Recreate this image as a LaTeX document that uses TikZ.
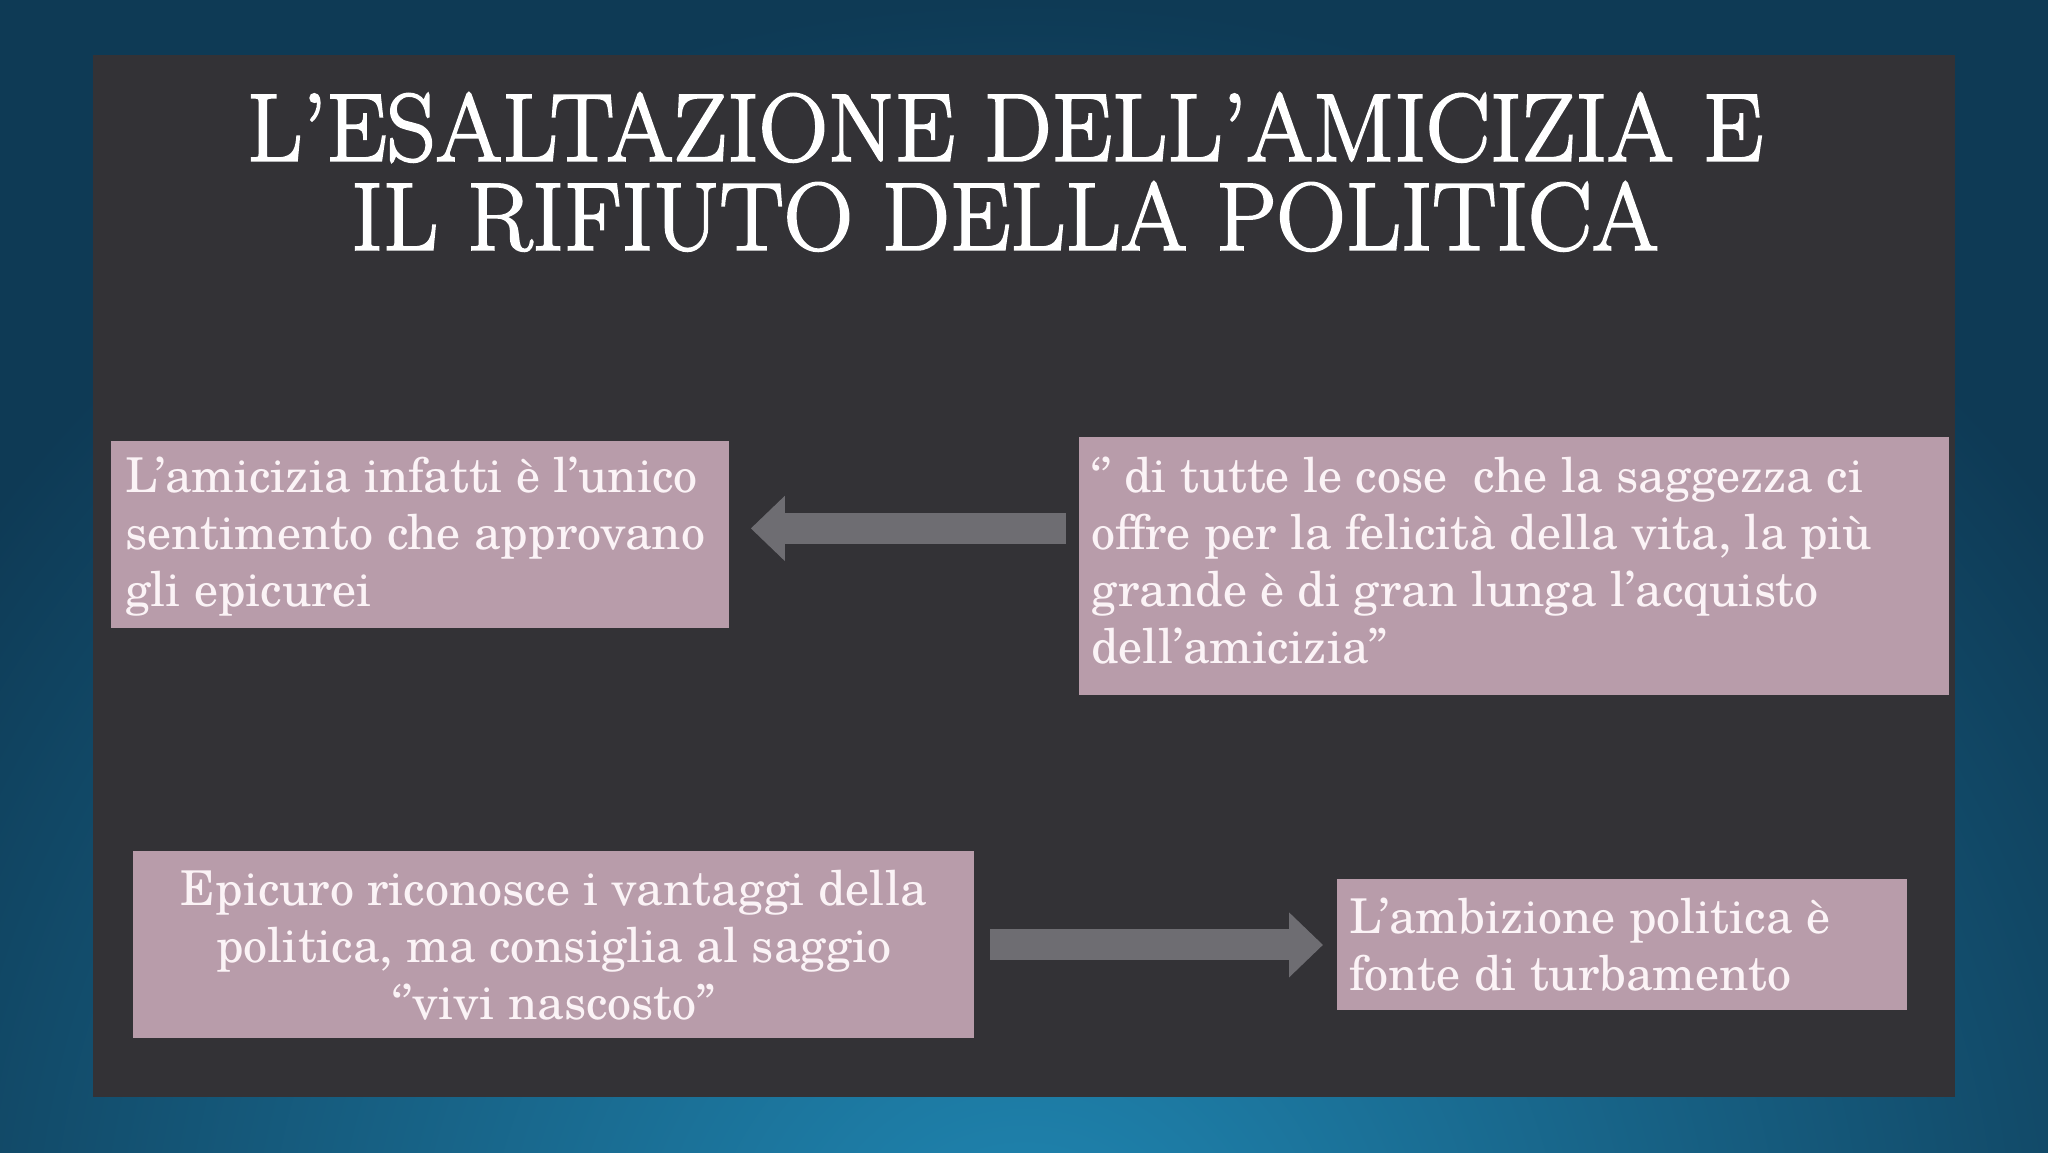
\documentclass[tikz,border=0pt]{standalone}
\usepackage{fontspec}
\newfontfamily\titlefont{lmroman17-regular.otf}[FakeBold=2.2]
\newfontfamily\boxfont{texgyreschola-regular.otf}
\usetikzlibrary{arrows.meta}
\definecolor{bgdark}{HTML}{0E3A55}
\definecolor{bglight}{HTML}{2088B4}
\definecolor{panel}{HTML}{333236}
\definecolor{mauve}{HTML}{B89CAA}
\definecolor{arrowgray}{HTML}{6E6D72}
\definecolor{txt}{HTML}{FBF3F6}
\tikzset{
  pbox/.style={fill=mauve, draw=none, anchor=north west, inner sep=0pt},
  ptext/.style={text=txt, font=\boxfont\fontsize{24}{28.5}\selectfont, inner sep=0pt, align=left},
  bigarrow/.style={draw=arrowgray, line width=15.5pt, -{Triangle[length=17pt,width=31.5pt]}},
}
\begin{document}
\begin{tikzpicture}[x=0.5pt,y=-0.5pt]
\useasboundingbox (0,0) rectangle (2048,1152);
\fill[bgdark] (0,0) rectangle (2048,1152);
\begin{scope}
\clip (0,0) rectangle (2048,1152);
\shade[inner color=bglight, outer color=bgdark] (1024,1300) circle (1300);
\end{scope}
\fill[panel] (93,55) rectangle (1955,1097);
% title
\node[text=white, font=\titlefont\fontsize{48}{44.5}\selectfont, align=center, inner sep=0pt] (title) at (1005,172)
  {L’ESALTAZIONE DELL’AMICIZIA E\\IL RIFIUTO DELLA POLITICA};
% boxes
\node[pbox, minimum width=309pt, minimum height=93.5pt] (b1) at (111,441) {};
\node[pbox, minimum width=435pt, minimum height=129pt] (b2) at (1079,437) {};
\node[pbox, minimum width=420.5pt, minimum height=93.5pt] (b3) at (133,851) {};
\node[pbox, minimum width=285pt, minimum height=65.5pt] (b4) at (1337,879) {};
% texts
\node[ptext, anchor=west] (t1) at ([xshift=7pt,yshift=-1pt]b1.west)
  {L’amicizia infatti è l’unico\\sentimento che approvano\\gli epicurei};
\node[ptext, anchor=north west] (t2) at ([xshift=6pt,yshift=-10pt]b2.north west)
  {‘’ di tutte le cose\ \ che la saggezza ci\\offre per la felicità della vita, la più\\grande è di gran lunga l’acquisto\\dell’amicizia”};
\node[ptext, align=center] (t3) at (b3.center)
  {Epicuro riconosce i vantaggi della\\politica, ma consiglia al saggio\\‘’vivi nascosto”};
\node[ptext, anchor=west] (t4) at ([xshift=6pt]b4.west)
  {L’ambizione politica è\\fonte di turbamento};
% arrows
\draw[bigarrow] ([xshift=-6.5pt,yshift=19pt]b2.west) -- ([xshift=10.5pt,yshift=3.25pt]b1.east);
\draw[bigarrow] ([xshift=7.5pt]b3.east) -- ([xshift=-7pt]b4.west);
\end{tikzpicture}
\end{document}
